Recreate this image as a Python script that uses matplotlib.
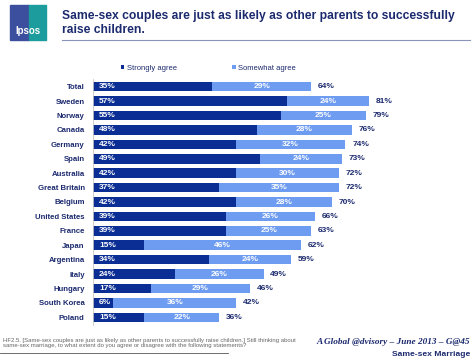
import matplotlib
matplotlib.use("Agg")
import matplotlib.pyplot as plt
from matplotlib.patches import Rectangle
from matplotlib.lines import Line2D

countries = ["Total", "Sweden", "Norway", "Canada", "Germany", "Spain", "Australia",
             "Great Britain", "Belgium", "United States", "France", "Japan",
             "Argentina", "Italy", "Hungary", "South Korea", "Poland"]
strongly = [35, 57, 55, 48, 42, 49, 42, 37, 42, 39, 39, 15, 34, 24, 17, 6, 15]
somewhat = [29, 24, 25, 28, 32, 24, 30, 35, 28, 26, 25, 46, 24, 26, 29, 36, 22]
totals = [64, 81, 79, 76, 74, 73, 72, 72, 70, 66, 63, 62, 59, 49, 46, 42, 36]

dark = "#0A2E94"
light = "#6E9CF0"
navy = "#1C2A6E"

plt.rcParams["font.family"] = ["Liberation Sans", "DejaVu Sans"]

W, H = 474, 363
fig = plt.figure(figsize=(W / 100, H / 100), dpi=100)

ax = fig.add_axes([93 / W, 1 - 324.5 / H, 341 / W, 245 / H])
y = list(range(len(countries)))
ax.barh(y, strongly, height=0.66, color=dark, label="Strongly agree")
ax.barh(y, somewhat, left=strongly, height=0.66, color=light, label="Somewhat agree")
for i in y:
    ax.text(1.8, i, f"{strongly[i]}%", color="white", fontsize=6.0, fontweight="bold",
            va="center", ha="left")
    ax.text(strongly[i] + somewhat[i] / 2, i, f"{somewhat[i]}%", color="white",
            fontsize=6.0, fontweight="bold", va="center", ha="center")
    ax.text(strongly[i] + somewhat[i] + 2, i, f"{totals[i]}%", color=navy,
            fontsize=6.0, fontweight="bold", va="center", ha="left")
ax.set_xlim(0, 100)
ax.set_ylim(len(countries) - 0.5, -0.5)
ax.set_yticks(y)
ax.set_yticklabels(countries, fontsize=5.6, fontweight="bold", color=navy)
ax.tick_params(axis="y", length=0, pad=6)
ax.set_xticks([])
for s in ["top", "right", "bottom"]:
    ax.spines[s].set_visible(False)
ax.spines["left"].set_color("#C8C8C8")
ax.spines["left"].set_linewidth(0.6)

ax.legend(loc="lower left", bbox_to_anchor=(0.072, 1.02), ncol=2, frameon=False,
          fontsize=5.5, handlelength=0.5, handleheight=0.5, handletextpad=0.3,
          columnspacing=7.2, borderaxespad=0, labelcolor=navy)

# title
fig.text(62 / W, 1 - 16 / H, "Same-sex couples are just as likely as other parents to successfully",
         fontsize=8.7, fontweight="bold", color=navy, va="center")
fig.text(62 / W, 1 - 30 / H, "raise children.", fontsize=8.7, fontweight="bold",
         color=navy, va="center")
fig.add_artist(Line2D([62 / W, 470 / W], [1 - 40 / H, 1 - 40 / H], color="#8A93B8", lw=0.8))

# logo
fig.add_artist(Rectangle((10 / W, 1 - 40 / H), 19 / W, 35 / H, color="#3C4E9E",
                         transform=fig.transFigure))
fig.add_artist(Rectangle((29 / W, 1 - 40 / H), 17 / W, 35 / H, color="#1C9C9C",
                         transform=fig.transFigure))
fig.text(28 / W, 1 - 31 / H, "Ipsos", color="white", fontsize=7, fontweight="bold",
         ha="center", va="center")

# footer
fig.text(3 / W, 1 - 343 / H,
         "HF2.5. [Same-sex couples are just as likely as other parents to successfully raise children.] Still thinking about\n"
         "same-sex marriage, to what extent do you agree or disagree with the following statements?",
         fontsize=4.35, color="#666666", va="center", linespacing=1.15)
fig.add_artist(Line2D([0, 228 / W], [1 - 353 / H, 1 - 353 / H], color="#555555", lw=0.6))
fig.text(470 / W, 1 - 342 / H, "A Global @dvisory \u2013 June 2013 \u2013 G@45",
         fontsize=6.7, color=navy, style="italic", fontweight="bold",
         family=["Liberation Serif", "DejaVu Serif"], ha="right", va="center")
fig.text(470 / W, 1 - 355 / H, "Same-sex Marriage", fontsize=6.1, color=navy,
         fontweight="bold", ha="right", va="center")

fig.savefig("out.png", dpi=100)
